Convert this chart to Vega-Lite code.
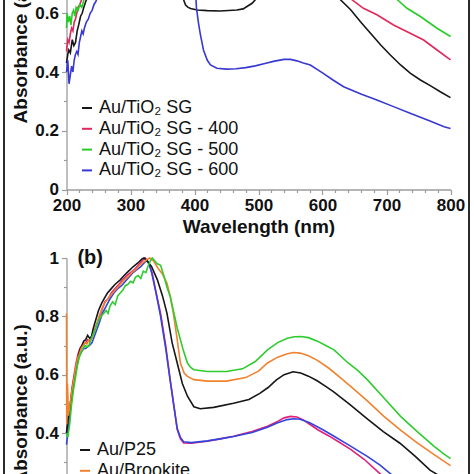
{
  "$schema": "https://vega.github.io/schema/vega-lite/v6.json",
  "width": 465,
  "height": 496,
  "autosize": {"type": "none"},
  "padding": {"left": 4, "top": -20, "right": 5, "bottom": -2},
  "background": "white",
  "config": {
    "font": "Liberation Sans",
    "view": {"stroke": "#2b2b2b", "strokeWidth": 2},
    "axis": {
      "grid": false,
      "domainColor": "#9c9c9c",
      "domainWidth": 1.3,
      "tickColor": "#9c9c9c",
      "tickWidth": 1.2,
      "labelFont": "Liberation Sans",
      "labelFontSize": 17,
      "labelFontWeight": "bold",
      "labelColor": "#111111",
      "labelPadding": 3,
      "titleFont": "Liberation Sans",
      "titleFontSize": 19,
      "titleFontWeight": "bold",
      "titleColor": "#111111"
    },
    "legend": {
      "symbolType": "stroke",
      "symbolSize": 100,
      "symbolStrokeWidth": 2,
      "labelFont": "Liberation Sans",
      "labelFontSize": 18,
      "labelColor": "#111111",
      "labelOffset": 3,
      "rowPadding": 2.8,
      "padding": 0
    }
  },
  "datasets": {
    "uvA": [
      {"sample": "Au/TiO₂ SG", "nm": 200, "abs": 0.43}, {"sample": "Au/TiO₂ SG", "nm": 202, "abs": 0.46}, {"sample": "Au/TiO₂ SG", "nm": 203.6, "abs": 0.475}, {"sample": "Au/TiO₂ SG", "nm": 206, "abs": 0.465}, {"sample": "Au/TiO₂ SG", "nm": 209, "abs": 0.51}, {"sample": "Au/TiO₂ SG", "nm": 211.5, "abs": 0.49}, {"sample": "Au/TiO₂ SG", "nm": 214, "abs": 0.5}, {"sample": "Au/TiO₂ SG", "nm": 216.7, "abs": 0.54}, {"sample": "Au/TiO₂ SG", "nm": 219, "abs": 0.56}, {"sample": "Au/TiO₂ SG", "nm": 222, "abs": 0.59}, {"sample": "Au/TiO₂ SG", "nm": 224.5, "abs": 0.6}, {"sample": "Au/TiO₂ SG", "nm": 227, "abs": 0.62}, {"sample": "Au/TiO₂ SG", "nm": 230, "abs": 0.64}, {"sample": "Au/TiO₂ SG", "nm": 234, "abs": 0.66}, {"sample": "Au/TiO₂ SG", "nm": 240, "abs": 0.7}, {"sample": "Au/TiO₂ SG", "nm": 260, "abs": 0.78}, {"sample": "Au/TiO₂ SG", "nm": 290, "abs": 0.88}, {"sample": "Au/TiO₂ SG", "nm": 320, "abs": 0.96}, {"sample": "Au/TiO₂ SG", "nm": 340, "abs": 0.97}, {"sample": "Au/TiO₂ SG", "nm": 355, "abs": 0.93}, {"sample": "Au/TiO₂ SG", "nm": 366, "abs": 0.82}, {"sample": "Au/TiO₂ SG", "nm": 376, "abs": 0.7}, {"sample": "Au/TiO₂ SG", "nm": 383, "abs": 0.646}, {"sample": "Au/TiO₂ SG", "nm": 386, "abs": 0.628}, {"sample": "Au/TiO₂ SG", "nm": 390, "abs": 0.62}, {"sample": "Au/TiO₂ SG", "nm": 394, "abs": 0.616}, {"sample": "Au/TiO₂ SG", "nm": 404, "abs": 0.611}, {"sample": "Au/TiO₂ SG", "nm": 420, "abs": 0.609}, {"sample": "Au/TiO₂ SG", "nm": 440, "abs": 0.608}, {"sample": "Au/TiO₂ SG", "nm": 466, "abs": 0.611}, {"sample": "Au/TiO₂ SG", "nm": 476, "abs": 0.615}, {"sample": "Au/TiO₂ SG", "nm": 482, "abs": 0.623}, {"sample": "Au/TiO₂ SG", "nm": 490, "abs": 0.634}, {"sample": "Au/TiO₂ SG", "nm": 495, "abs": 0.646}, {"sample": "Au/TiO₂ SG", "nm": 505, "abs": 0.665}, {"sample": "Au/TiO₂ SG", "nm": 520, "abs": 0.69}, {"sample": "Au/TiO₂ SG", "nm": 550, "abs": 0.74}, {"sample": "Au/TiO₂ SG", "nm": 580, "abs": 0.74}, {"sample": "Au/TiO₂ SG", "nm": 605, "abs": 0.7}, {"sample": "Au/TiO₂ SG", "nm": 628, "abs": 0.646}, {"sample": "Au/TiO₂ SG", "nm": 644, "abs": 0.612}, {"sample": "Au/TiO₂ SG", "nm": 659, "abs": 0.572}, {"sample": "Au/TiO₂ SG", "nm": 675, "abs": 0.532}, {"sample": "Au/TiO₂ SG", "nm": 691, "abs": 0.492}, {"sample": "Au/TiO₂ SG", "nm": 706, "abs": 0.458}, {"sample": "Au/TiO₂ SG", "nm": 722, "abs": 0.424}, {"sample": "Au/TiO₂ SG", "nm": 737, "abs": 0.396}, {"sample": "Au/TiO₂ SG", "nm": 753, "abs": 0.373}, {"sample": "Au/TiO₂ SG", "nm": 769, "abs": 0.353}, {"sample": "Au/TiO₂ SG", "nm": 784, "abs": 0.333}, {"sample": "Au/TiO₂ SG", "nm": 800, "abs": 0.313},
      {"sample": "Au/TiO₂ SG - 400", "nm": 200, "abs": 0.47}, {"sample": "Au/TiO₂ SG - 400", "nm": 202, "abs": 0.51}, {"sample": "Au/TiO₂ SG - 400", "nm": 204, "abs": 0.5}, {"sample": "Au/TiO₂ SG - 400", "nm": 206, "abs": 0.53}, {"sample": "Au/TiO₂ SG - 400", "nm": 208, "abs": 0.55}, {"sample": "Au/TiO₂ SG - 400", "nm": 210, "abs": 0.54}, {"sample": "Au/TiO₂ SG - 400", "nm": 212, "abs": 0.57}, {"sample": "Au/TiO₂ SG - 400", "nm": 214, "abs": 0.58}, {"sample": "Au/TiO₂ SG - 400", "nm": 216, "abs": 0.6}, {"sample": "Au/TiO₂ SG - 400", "nm": 218, "abs": 0.62}, {"sample": "Au/TiO₂ SG - 400", "nm": 221, "abs": 0.63}, {"sample": "Au/TiO₂ SG - 400", "nm": 224, "abs": 0.65}, {"sample": "Au/TiO₂ SG - 400", "nm": 228, "abs": 0.68}, {"sample": "Au/TiO₂ SG - 400", "nm": 240, "abs": 0.74}, {"sample": "Au/TiO₂ SG - 400", "nm": 270, "abs": 0.85}, {"sample": "Au/TiO₂ SG - 400", "nm": 300, "abs": 0.93}, {"sample": "Au/TiO₂ SG - 400", "nm": 330, "abs": 0.98}, {"sample": "Au/TiO₂ SG - 400", "nm": 360, "abs": 0.96}, {"sample": "Au/TiO₂ SG - 400", "nm": 380, "abs": 0.88}, {"sample": "Au/TiO₂ SG - 400", "nm": 400, "abs": 0.8}, {"sample": "Au/TiO₂ SG - 400", "nm": 450, "abs": 0.78}, {"sample": "Au/TiO₂ SG - 400", "nm": 500, "abs": 0.8}, {"sample": "Au/TiO₂ SG - 400", "nm": 550, "abs": 0.84}, {"sample": "Au/TiO₂ SG - 400", "nm": 600, "abs": 0.76}, {"sample": "Au/TiO₂ SG - 400", "nm": 630, "abs": 0.69}, {"sample": "Au/TiO₂ SG - 400", "nm": 646, "abs": 0.646}, {"sample": "Au/TiO₂ SG - 400", "nm": 664, "abs": 0.617}, {"sample": "Au/TiO₂ SG - 400", "nm": 685, "abs": 0.595}, {"sample": "Au/TiO₂ SG - 400", "nm": 711, "abs": 0.56}, {"sample": "Au/TiO₂ SG - 400", "nm": 737, "abs": 0.532}, {"sample": "Au/TiO₂ SG - 400", "nm": 758, "abs": 0.509}, {"sample": "Au/TiO₂ SG - 400", "nm": 779, "abs": 0.475}, {"sample": "Au/TiO₂ SG - 400", "nm": 800, "abs": 0.441},
      {"sample": "Au/TiO₂ SG - 500", "nm": 200, "abs": 0.55}, {"sample": "Au/TiO₂ SG - 500", "nm": 201, "abs": 0.6}, {"sample": "Au/TiO₂ SG - 500", "nm": 203, "abs": 0.57}, {"sample": "Au/TiO₂ SG - 500", "nm": 205, "abs": 0.59}, {"sample": "Au/TiO₂ SG - 500", "nm": 207, "abs": 0.56}, {"sample": "Au/TiO₂ SG - 500", "nm": 209, "abs": 0.6}, {"sample": "Au/TiO₂ SG - 500", "nm": 211, "abs": 0.61}, {"sample": "Au/TiO₂ SG - 500", "nm": 213, "abs": 0.59}, {"sample": "Au/TiO₂ SG - 500", "nm": 215, "abs": 0.62}, {"sample": "Au/TiO₂ SG - 500", "nm": 218, "abs": 0.61}, {"sample": "Au/TiO₂ SG - 500", "nm": 221, "abs": 0.63}, {"sample": "Au/TiO₂ SG - 500", "nm": 224, "abs": 0.62}, {"sample": "Au/TiO₂ SG - 500", "nm": 227, "abs": 0.645}, {"sample": "Au/TiO₂ SG - 500", "nm": 231, "abs": 0.66}, {"sample": "Au/TiO₂ SG - 500", "nm": 240, "abs": 0.71}, {"sample": "Au/TiO₂ SG - 500", "nm": 270, "abs": 0.84}, {"sample": "Au/TiO₂ SG - 500", "nm": 300, "abs": 0.93}, {"sample": "Au/TiO₂ SG - 500", "nm": 330, "abs": 0.98}, {"sample": "Au/TiO₂ SG - 500", "nm": 360, "abs": 0.97}, {"sample": "Au/TiO₂ SG - 500", "nm": 380, "abs": 0.92}, {"sample": "Au/TiO₂ SG - 500", "nm": 400, "abs": 0.86}, {"sample": "Au/TiO₂ SG - 500", "nm": 450, "abs": 0.85}, {"sample": "Au/TiO₂ SG - 500", "nm": 500, "abs": 0.87}, {"sample": "Au/TiO₂ SG - 500", "nm": 550, "abs": 0.92}, {"sample": "Au/TiO₂ SG - 500", "nm": 600, "abs": 0.86}, {"sample": "Au/TiO₂ SG - 500", "nm": 660, "abs": 0.75}, {"sample": "Au/TiO₂ SG - 500", "nm": 700, "abs": 0.675}, {"sample": "Au/TiO₂ SG - 500", "nm": 717, "abs": 0.646}, {"sample": "Au/TiO₂ SG - 500", "nm": 732, "abs": 0.617}, {"sample": "Au/TiO₂ SG - 500", "nm": 753, "abs": 0.589}, {"sample": "Au/TiO₂ SG - 500", "nm": 764, "abs": 0.572}, {"sample": "Au/TiO₂ SG - 500", "nm": 779, "abs": 0.549}, {"sample": "Au/TiO₂ SG - 500", "nm": 800, "abs": 0.521},
      {"sample": "Au/TiO₂ SG - 600", "nm": 200, "abs": 0.4}, {"sample": "Au/TiO₂ SG - 600", "nm": 202, "abs": 0.44}, {"sample": "Au/TiO₂ SG - 600", "nm": 204, "abs": 0.36}, {"sample": "Au/TiO₂ SG - 600", "nm": 206, "abs": 0.39}, {"sample": "Au/TiO₂ SG - 600", "nm": 208, "abs": 0.42}, {"sample": "Au/TiO₂ SG - 600", "nm": 210, "abs": 0.4}, {"sample": "Au/TiO₂ SG - 600", "nm": 212, "abs": 0.44}, {"sample": "Au/TiO₂ SG - 600", "nm": 214, "abs": 0.46}, {"sample": "Au/TiO₂ SG - 600", "nm": 216, "abs": 0.47}, {"sample": "Au/TiO₂ SG - 600", "nm": 218, "abs": 0.46}, {"sample": "Au/TiO₂ SG - 600", "nm": 220, "abs": 0.5}, {"sample": "Au/TiO₂ SG - 600", "nm": 222, "abs": 0.52}, {"sample": "Au/TiO₂ SG - 600", "nm": 224, "abs": 0.54}, {"sample": "Au/TiO₂ SG - 600", "nm": 226, "abs": 0.53}, {"sample": "Au/TiO₂ SG - 600", "nm": 228, "abs": 0.55}, {"sample": "Au/TiO₂ SG - 600", "nm": 231, "abs": 0.57}, {"sample": "Au/TiO₂ SG - 600", "nm": 234, "abs": 0.58}, {"sample": "Au/TiO₂ SG - 600", "nm": 237, "abs": 0.6}, {"sample": "Au/TiO₂ SG - 600", "nm": 240, "abs": 0.61}, {"sample": "Au/TiO₂ SG - 600", "nm": 243, "abs": 0.63}, {"sample": "Au/TiO₂ SG - 600", "nm": 246, "abs": 0.64}, {"sample": "Au/TiO₂ SG - 600", "nm": 250, "abs": 0.67}, {"sample": "Au/TiO₂ SG - 600", "nm": 270, "abs": 0.75}, {"sample": "Au/TiO₂ SG - 600", "nm": 300, "abs": 0.86}, {"sample": "Au/TiO₂ SG - 600", "nm": 330, "abs": 0.94}, {"sample": "Au/TiO₂ SG - 600", "nm": 360, "abs": 0.97}, {"sample": "Au/TiO₂ SG - 600", "nm": 385, "abs": 0.98}, {"sample": "Au/TiO₂ SG - 600", "nm": 394, "abs": 0.95}, {"sample": "Au/TiO₂ SG - 600", "nm": 398, "abs": 0.85}, {"sample": "Au/TiO₂ SG - 600", "nm": 401, "abs": 0.7}, {"sample": "Au/TiO₂ SG - 600", "nm": 403, "abs": 0.62}, {"sample": "Au/TiO₂ SG - 600", "nm": 406, "abs": 0.57}, {"sample": "Au/TiO₂ SG - 600", "nm": 409, "abs": 0.53}, {"sample": "Au/TiO₂ SG - 600", "nm": 414, "abs": 0.475}, {"sample": "Au/TiO₂ SG - 600", "nm": 420, "abs": 0.44}, {"sample": "Au/TiO₂ SG - 600", "nm": 425, "abs": 0.424}, {"sample": "Au/TiO₂ SG - 600", "nm": 435, "abs": 0.413}, {"sample": "Au/TiO₂ SG - 600", "nm": 450, "abs": 0.41}, {"sample": "Au/TiO₂ SG - 600", "nm": 465, "abs": 0.411}, {"sample": "Au/TiO₂ SG - 600", "nm": 480, "abs": 0.415}, {"sample": "Au/TiO₂ SG - 600", "nm": 495, "abs": 0.421}, {"sample": "Au/TiO₂ SG - 600", "nm": 510, "abs": 0.429}, {"sample": "Au/TiO₂ SG - 600", "nm": 525, "abs": 0.437}, {"sample": "Au/TiO₂ SG - 600", "nm": 540, "abs": 0.443}, {"sample": "Au/TiO₂ SG - 600", "nm": 550, "abs": 0.443}, {"sample": "Au/TiO₂ SG - 600", "nm": 560, "abs": 0.438}, {"sample": "Au/TiO₂ SG - 600", "nm": 570, "abs": 0.431}, {"sample": "Au/TiO₂ SG - 600", "nm": 581, "abs": 0.424}, {"sample": "Au/TiO₂ SG - 600", "nm": 600, "abs": 0.397}, {"sample": "Au/TiO₂ SG - 600", "nm": 617, "abs": 0.372}, {"sample": "Au/TiO₂ SG - 600", "nm": 633, "abs": 0.35}, {"sample": "Au/TiO₂ SG - 600", "nm": 660, "abs": 0.325}, {"sample": "Au/TiO₂ SG - 600", "nm": 685, "abs": 0.305}, {"sample": "Au/TiO₂ SG - 600", "nm": 710, "abs": 0.283}, {"sample": "Au/TiO₂ SG - 600", "nm": 737, "abs": 0.26}, {"sample": "Au/TiO₂ SG - 600", "nm": 765, "abs": 0.236}, {"sample": "Au/TiO₂ SG - 600", "nm": 790, "abs": 0.214}, {"sample": "Au/TiO₂ SG - 600", "nm": 800, "abs": 0.208}
    ],
    "uvB": [
      {"sample": "Au/Rutile", "nm": 200, "abs": 0.4}, {"sample": "Au/Rutile", "nm": 203, "abs": 0.45}, {"sample": "Au/Rutile", "nm": 206, "abs": 0.5}, {"sample": "Au/Rutile", "nm": 209, "abs": 0.56}, {"sample": "Au/Rutile", "nm": 212, "abs": 0.6}, {"sample": "Au/Rutile", "nm": 215, "abs": 0.64}, {"sample": "Au/Rutile", "nm": 218, "abs": 0.67}, {"sample": "Au/Rutile", "nm": 221, "abs": 0.69}, {"sample": "Au/Rutile", "nm": 224, "abs": 0.7}, {"sample": "Au/Rutile", "nm": 227, "abs": 0.705}, {"sample": "Au/Rutile", "nm": 230, "abs": 0.71}, {"sample": "Au/Rutile", "nm": 233, "abs": 0.72}, {"sample": "Au/Rutile", "nm": 236, "abs": 0.715}, {"sample": "Au/Rutile", "nm": 240, "abs": 0.73}, {"sample": "Au/Rutile", "nm": 245, "abs": 0.76}, {"sample": "Au/Rutile", "nm": 250, "abs": 0.79}, {"sample": "Au/Rutile", "nm": 255, "abs": 0.82}, {"sample": "Au/Rutile", "nm": 260, "abs": 0.85}, {"sample": "Au/Rutile", "nm": 265, "abs": 0.86}, {"sample": "Au/Rutile", "nm": 270, "abs": 0.88}, {"sample": "Au/Rutile", "nm": 276, "abs": 0.895}, {"sample": "Au/Rutile", "nm": 282, "abs": 0.91}, {"sample": "Au/Rutile", "nm": 288, "abs": 0.925}, {"sample": "Au/Rutile", "nm": 294, "abs": 0.94}, {"sample": "Au/Rutile", "nm": 300, "abs": 0.95}, {"sample": "Au/Rutile", "nm": 306, "abs": 0.96}, {"sample": "Au/Rutile", "nm": 312, "abs": 0.975}, {"sample": "Au/Rutile", "nm": 318, "abs": 0.99}, {"sample": "Au/Rutile", "nm": 323, "abs": 1.0}, {"sample": "Au/Rutile", "nm": 328, "abs": 0.985}, {"sample": "Au/Rutile", "nm": 334, "abs": 0.948}, {"sample": "Au/Rutile", "nm": 340, "abs": 0.88}, {"sample": "Au/Rutile", "nm": 347, "abs": 0.81}, {"sample": "Au/Rutile", "nm": 355, "abs": 0.7}, {"sample": "Au/Rutile", "nm": 362, "abs": 0.583}, {"sample": "Au/Rutile", "nm": 368, "abs": 0.49}, {"sample": "Au/Rutile", "nm": 373, "abs": 0.412}, {"sample": "Au/Rutile", "nm": 378, "abs": 0.38}, {"sample": "Au/Rutile", "nm": 383, "abs": 0.366}, {"sample": "Au/Rutile", "nm": 395, "abs": 0.365}, {"sample": "Au/Rutile", "nm": 420, "abs": 0.372}, {"sample": "Au/Rutile", "nm": 440, "abs": 0.38}, {"sample": "Au/Rutile", "nm": 461, "abs": 0.389}, {"sample": "Au/Rutile", "nm": 490, "abs": 0.405}, {"sample": "Au/Rutile", "nm": 514, "abs": 0.423}, {"sample": "Au/Rutile", "nm": 530, "abs": 0.44}, {"sample": "Au/Rutile", "nm": 540, "abs": 0.452}, {"sample": "Au/Rutile", "nm": 550, "abs": 0.457}, {"sample": "Au/Rutile", "nm": 560, "abs": 0.455}, {"sample": "Au/Rutile", "nm": 570, "abs": 0.445}, {"sample": "Au/Rutile", "nm": 580, "abs": 0.43}, {"sample": "Au/Rutile", "nm": 592, "abs": 0.412}, {"sample": "Au/Rutile", "nm": 610, "abs": 0.39}, {"sample": "Au/Rutile", "nm": 625, "abs": 0.37}, {"sample": "Au/Rutile", "nm": 644, "abs": 0.344}, {"sample": "Au/Rutile", "nm": 665, "abs": 0.31}, {"sample": "Au/Rutile", "nm": 685, "abs": 0.27}, {"sample": "Au/Rutile", "nm": 700, "abs": 0.24}, {"sample": "Au/Rutile", "nm": 730, "abs": 0.19}, {"sample": "Au/Rutile", "nm": 760, "abs": 0.15}, {"sample": "Au/Rutile", "nm": 800, "abs": 0.11},
      {"sample": "Au/TiO₂ SG", "nm": 200, "abs": 0.36}, {"sample": "Au/TiO₂ SG", "nm": 203, "abs": 0.42}, {"sample": "Au/TiO₂ SG", "nm": 206, "abs": 0.48}, {"sample": "Au/TiO₂ SG", "nm": 209, "abs": 0.53}, {"sample": "Au/TiO₂ SG", "nm": 212, "abs": 0.58}, {"sample": "Au/TiO₂ SG", "nm": 215, "abs": 0.62}, {"sample": "Au/TiO₂ SG", "nm": 218, "abs": 0.65}, {"sample": "Au/TiO₂ SG", "nm": 221, "abs": 0.67}, {"sample": "Au/TiO₂ SG", "nm": 224, "abs": 0.68}, {"sample": "Au/TiO₂ SG", "nm": 227, "abs": 0.69}, {"sample": "Au/TiO₂ SG", "nm": 230, "abs": 0.69}, {"sample": "Au/TiO₂ SG", "nm": 233, "abs": 0.695}, {"sample": "Au/TiO₂ SG", "nm": 236, "abs": 0.7}, {"sample": "Au/TiO₂ SG", "nm": 240, "abs": 0.71}, {"sample": "Au/TiO₂ SG", "nm": 245, "abs": 0.74}, {"sample": "Au/TiO₂ SG", "nm": 250, "abs": 0.77}, {"sample": "Au/TiO₂ SG", "nm": 256, "abs": 0.81}, {"sample": "Au/TiO₂ SG", "nm": 262, "abs": 0.835}, {"sample": "Au/TiO₂ SG", "nm": 268, "abs": 0.86}, {"sample": "Au/TiO₂ SG", "nm": 274, "abs": 0.88}, {"sample": "Au/TiO₂ SG", "nm": 280, "abs": 0.895}, {"sample": "Au/TiO₂ SG", "nm": 286, "abs": 0.905}, {"sample": "Au/TiO₂ SG", "nm": 292, "abs": 0.92}, {"sample": "Au/TiO₂ SG", "nm": 298, "abs": 0.935}, {"sample": "Au/TiO₂ SG", "nm": 304, "abs": 0.95}, {"sample": "Au/TiO₂ SG", "nm": 310, "abs": 0.96}, {"sample": "Au/TiO₂ SG", "nm": 316, "abs": 0.97}, {"sample": "Au/TiO₂ SG", "nm": 322, "abs": 0.985}, {"sample": "Au/TiO₂ SG", "nm": 326, "abs": 0.99}, {"sample": "Au/TiO₂ SG", "nm": 329, "abs": 0.98}, {"sample": "Au/TiO₂ SG", "nm": 333, "abs": 0.95}, {"sample": "Au/TiO₂ SG", "nm": 340, "abs": 0.88}, {"sample": "Au/TiO₂ SG", "nm": 347, "abs": 0.8}, {"sample": "Au/TiO₂ SG", "nm": 355, "abs": 0.69}, {"sample": "Au/TiO₂ SG", "nm": 362, "abs": 0.58}, {"sample": "Au/TiO₂ SG", "nm": 368, "abs": 0.49}, {"sample": "Au/TiO₂ SG", "nm": 373, "abs": 0.415}, {"sample": "Au/TiO₂ SG", "nm": 378, "abs": 0.385}, {"sample": "Au/TiO₂ SG", "nm": 383, "abs": 0.37}, {"sample": "Au/TiO₂ SG", "nm": 395, "abs": 0.367}, {"sample": "Au/TiO₂ SG", "nm": 420, "abs": 0.373}, {"sample": "Au/TiO₂ SG", "nm": 440, "abs": 0.38}, {"sample": "Au/TiO₂ SG", "nm": 461, "abs": 0.388}, {"sample": "Au/TiO₂ SG", "nm": 490, "abs": 0.402}, {"sample": "Au/TiO₂ SG", "nm": 514, "abs": 0.42}, {"sample": "Au/TiO₂ SG", "nm": 530, "abs": 0.435}, {"sample": "Au/TiO₂ SG", "nm": 545, "abs": 0.446}, {"sample": "Au/TiO₂ SG", "nm": 555, "abs": 0.449}, {"sample": "Au/TiO₂ SG", "nm": 565, "abs": 0.447}, {"sample": "Au/TiO₂ SG", "nm": 580, "abs": 0.435}, {"sample": "Au/TiO₂ SG", "nm": 600, "abs": 0.412}, {"sample": "Au/TiO₂ SG", "nm": 618, "abs": 0.389}, {"sample": "Au/TiO₂ SG", "nm": 640, "abs": 0.36}, {"sample": "Au/TiO₂ SG", "nm": 670, "abs": 0.32}, {"sample": "Au/TiO₂ SG", "nm": 690, "abs": 0.29}, {"sample": "Au/TiO₂ SG", "nm": 704, "abs": 0.264}, {"sample": "Au/TiO₂ SG", "nm": 730, "abs": 0.22}, {"sample": "Au/TiO₂ SG", "nm": 760, "abs": 0.18}, {"sample": "Au/TiO₂ SG", "nm": 800, "abs": 0.13},
      {"sample": "Au/P25", "nm": 200, "abs": 0.4}, {"sample": "Au/P25", "nm": 203, "abs": 0.46}, {"sample": "Au/P25", "nm": 206, "abs": 0.5}, {"sample": "Au/P25", "nm": 209, "abs": 0.55}, {"sample": "Au/P25", "nm": 212, "abs": 0.59}, {"sample": "Au/P25", "nm": 215, "abs": 0.62}, {"sample": "Au/P25", "nm": 218, "abs": 0.66}, {"sample": "Au/P25", "nm": 221, "abs": 0.685}, {"sample": "Au/P25", "nm": 224, "abs": 0.7}, {"sample": "Au/P25", "nm": 227, "abs": 0.715}, {"sample": "Au/P25", "nm": 230, "abs": 0.72}, {"sample": "Au/P25", "nm": 233, "abs": 0.735}, {"sample": "Au/P25", "nm": 236, "abs": 0.725}, {"sample": "Au/P25", "nm": 239, "abs": 0.73}, {"sample": "Au/P25", "nm": 242, "abs": 0.76}, {"sample": "Au/P25", "nm": 246, "abs": 0.79}, {"sample": "Au/P25", "nm": 250, "abs": 0.82}, {"sample": "Au/P25", "nm": 255, "abs": 0.845}, {"sample": "Au/P25", "nm": 260, "abs": 0.865}, {"sample": "Au/P25", "nm": 264, "abs": 0.88}, {"sample": "Au/P25", "nm": 270, "abs": 0.895}, {"sample": "Au/P25", "nm": 276, "abs": 0.91}, {"sample": "Au/P25", "nm": 284, "abs": 0.925}, {"sample": "Au/P25", "nm": 290, "abs": 0.94}, {"sample": "Au/P25", "nm": 297, "abs": 0.955}, {"sample": "Au/P25", "nm": 304, "abs": 0.97}, {"sample": "Au/P25", "nm": 311, "abs": 0.982}, {"sample": "Au/P25", "nm": 318, "abs": 0.997}, {"sample": "Au/P25", "nm": 321, "abs": 1.0}, {"sample": "Au/P25", "nm": 326, "abs": 0.99}, {"sample": "Au/P25", "nm": 333, "abs": 0.97}, {"sample": "Au/P25", "nm": 342, "abs": 0.925}, {"sample": "Au/P25", "nm": 350, "abs": 0.87}, {"sample": "Au/P25", "nm": 357, "abs": 0.81}, {"sample": "Au/P25", "nm": 365, "abs": 0.71}, {"sample": "Au/P25", "nm": 373, "abs": 0.64}, {"sample": "Au/P25", "nm": 381, "abs": 0.57}, {"sample": "Au/P25", "nm": 389, "abs": 0.526}, {"sample": "Au/P25", "nm": 399, "abs": 0.49}, {"sample": "Au/P25", "nm": 409, "abs": 0.483}, {"sample": "Au/P25", "nm": 430, "abs": 0.488}, {"sample": "Au/P25", "nm": 461, "abs": 0.502}, {"sample": "Au/P25", "nm": 485, "abs": 0.515}, {"sample": "Au/P25", "nm": 502, "abs": 0.536}, {"sample": "Au/P25", "nm": 515, "abs": 0.556}, {"sample": "Au/P25", "nm": 528, "abs": 0.582}, {"sample": "Au/P25", "nm": 540, "abs": 0.6}, {"sample": "Au/P25", "nm": 554, "abs": 0.61}, {"sample": "Au/P25", "nm": 566, "abs": 0.606}, {"sample": "Au/P25", "nm": 578, "abs": 0.595}, {"sample": "Au/P25", "nm": 591, "abs": 0.58}, {"sample": "Au/P25", "nm": 605, "abs": 0.56}, {"sample": "Au/P25", "nm": 617, "abs": 0.542}, {"sample": "Au/P25", "nm": 643, "abs": 0.497}, {"sample": "Au/P25", "nm": 669, "abs": 0.45}, {"sample": "Au/P25", "nm": 695, "abs": 0.405}, {"sample": "Au/P25", "nm": 721, "abs": 0.365}, {"sample": "Au/P25", "nm": 745, "abs": 0.32}, {"sample": "Au/P25", "nm": 768, "abs": 0.273}, {"sample": "Au/P25", "nm": 785, "abs": 0.25}, {"sample": "Au/P25", "nm": 800, "abs": 0.23},
      {"sample": "Au/Brookite", "nm": 200, "abs": 0.81}, {"sample": "Au/Brookite", "nm": 200.4, "abs": 0.43}, {"sample": "Au/Brookite", "nm": 201.5, "abs": 0.57}, {"sample": "Au/Brookite", "nm": 203, "abs": 0.46}, {"sample": "Au/Brookite", "nm": 205, "abs": 0.49}, {"sample": "Au/Brookite", "nm": 208, "abs": 0.54}, {"sample": "Au/Brookite", "nm": 211, "abs": 0.58}, {"sample": "Au/Brookite", "nm": 214, "abs": 0.62}, {"sample": "Au/Brookite", "nm": 217, "abs": 0.655}, {"sample": "Au/Brookite", "nm": 220, "abs": 0.67}, {"sample": "Au/Brookite", "nm": 223, "abs": 0.69}, {"sample": "Au/Brookite", "nm": 226, "abs": 0.7}, {"sample": "Au/Brookite", "nm": 229, "abs": 0.71}, {"sample": "Au/Brookite", "nm": 232, "abs": 0.705}, {"sample": "Au/Brookite", "nm": 235, "abs": 0.72}, {"sample": "Au/Brookite", "nm": 239, "abs": 0.72}, {"sample": "Au/Brookite", "nm": 243, "abs": 0.745}, {"sample": "Au/Brookite", "nm": 247, "abs": 0.77}, {"sample": "Au/Brookite", "nm": 251, "abs": 0.8}, {"sample": "Au/Brookite", "nm": 256, "abs": 0.83}, {"sample": "Au/Brookite", "nm": 261, "abs": 0.85}, {"sample": "Au/Brookite", "nm": 266, "abs": 0.865}, {"sample": "Au/Brookite", "nm": 272, "abs": 0.88}, {"sample": "Au/Brookite", "nm": 278, "abs": 0.895}, {"sample": "Au/Brookite", "nm": 284, "abs": 0.91}, {"sample": "Au/Brookite", "nm": 290, "abs": 0.925}, {"sample": "Au/Brookite", "nm": 296, "abs": 0.935}, {"sample": "Au/Brookite", "nm": 302, "abs": 0.95}, {"sample": "Au/Brookite", "nm": 308, "abs": 0.96}, {"sample": "Au/Brookite", "nm": 314, "abs": 0.975}, {"sample": "Au/Brookite", "nm": 320, "abs": 0.985}, {"sample": "Au/Brookite", "nm": 326, "abs": 0.995}, {"sample": "Au/Brookite", "nm": 330, "abs": 1.0}, {"sample": "Au/Brookite", "nm": 336, "abs": 0.99}, {"sample": "Au/Brookite", "nm": 343, "abs": 0.965}, {"sample": "Au/Brookite", "nm": 350, "abs": 0.945}, {"sample": "Au/Brookite", "nm": 357, "abs": 0.913}, {"sample": "Au/Brookite", "nm": 362, "abs": 0.87}, {"sample": "Au/Brookite", "nm": 367, "abs": 0.81}, {"sample": "Au/Brookite", "nm": 373, "abs": 0.72}, {"sample": "Au/Brookite", "nm": 378, "abs": 0.64}, {"sample": "Au/Brookite", "nm": 384, "abs": 0.605}, {"sample": "Au/Brookite", "nm": 389, "abs": 0.594}, {"sample": "Au/Brookite", "nm": 399, "abs": 0.583}, {"sample": "Au/Brookite", "nm": 420, "abs": 0.578}, {"sample": "Au/Brookite", "nm": 450, "abs": 0.578}, {"sample": "Au/Brookite", "nm": 480, "abs": 0.59}, {"sample": "Au/Brookite", "nm": 500, "abs": 0.612}, {"sample": "Au/Brookite", "nm": 514, "abs": 0.64}, {"sample": "Au/Brookite", "nm": 530, "abs": 0.66}, {"sample": "Au/Brookite", "nm": 545, "abs": 0.672}, {"sample": "Au/Brookite", "nm": 555, "abs": 0.676}, {"sample": "Au/Brookite", "nm": 565, "abs": 0.674}, {"sample": "Au/Brookite", "nm": 578, "abs": 0.665}, {"sample": "Au/Brookite", "nm": 592, "abs": 0.649}, {"sample": "Au/Brookite", "nm": 610, "abs": 0.622}, {"sample": "Au/Brookite", "nm": 625, "abs": 0.595}, {"sample": "Au/Brookite", "nm": 644, "abs": 0.56}, {"sample": "Au/Brookite", "nm": 670, "abs": 0.51}, {"sample": "Au/Brookite", "nm": 696, "abs": 0.457}, {"sample": "Au/Brookite", "nm": 722, "abs": 0.41}, {"sample": "Au/Brookite", "nm": 748, "abs": 0.366}, {"sample": "Au/Brookite", "nm": 775, "abs": 0.325}, {"sample": "Au/Brookite", "nm": 800, "abs": 0.288},
      {"sample": "Au/Anatase", "nm": 200, "abs": 0.4}, {"sample": "Au/Anatase", "nm": 202, "abs": 0.385}, {"sample": "Au/Anatase", "nm": 205, "abs": 0.43}, {"sample": "Au/Anatase", "nm": 208, "abs": 0.5}, {"sample": "Au/Anatase", "nm": 211, "abs": 0.55}, {"sample": "Au/Anatase", "nm": 214, "abs": 0.59}, {"sample": "Au/Anatase", "nm": 217, "abs": 0.63}, {"sample": "Au/Anatase", "nm": 220, "abs": 0.66}, {"sample": "Au/Anatase", "nm": 223, "abs": 0.675}, {"sample": "Au/Anatase", "nm": 226, "abs": 0.69}, {"sample": "Au/Anatase", "nm": 229, "abs": 0.7}, {"sample": "Au/Anatase", "nm": 232, "abs": 0.695}, {"sample": "Au/Anatase", "nm": 235, "abs": 0.7}, {"sample": "Au/Anatase", "nm": 238, "abs": 0.72}, {"sample": "Au/Anatase", "nm": 242, "abs": 0.74}, {"sample": "Au/Anatase", "nm": 246, "abs": 0.76}, {"sample": "Au/Anatase", "nm": 250, "abs": 0.785}, {"sample": "Au/Anatase", "nm": 254, "abs": 0.8}, {"sample": "Au/Anatase", "nm": 258, "abs": 0.81}, {"sample": "Au/Anatase", "nm": 262, "abs": 0.82}, {"sample": "Au/Anatase", "nm": 265, "abs": 0.81}, {"sample": "Au/Anatase", "nm": 268, "abs": 0.835}, {"sample": "Au/Anatase", "nm": 272, "abs": 0.85}, {"sample": "Au/Anatase", "nm": 276, "abs": 0.84}, {"sample": "Au/Anatase", "nm": 280, "abs": 0.87}, {"sample": "Au/Anatase", "nm": 284, "abs": 0.88}, {"sample": "Au/Anatase", "nm": 288, "abs": 0.89}, {"sample": "Au/Anatase", "nm": 292, "abs": 0.905}, {"sample": "Au/Anatase", "nm": 296, "abs": 0.91}, {"sample": "Au/Anatase", "nm": 300, "abs": 0.92}, {"sample": "Au/Anatase", "nm": 304, "abs": 0.915}, {"sample": "Au/Anatase", "nm": 308, "abs": 0.935}, {"sample": "Au/Anatase", "nm": 312, "abs": 0.94}, {"sample": "Au/Anatase", "nm": 316, "abs": 0.93}, {"sample": "Au/Anatase", "nm": 320, "abs": 0.955}, {"sample": "Au/Anatase", "nm": 324, "abs": 0.95}, {"sample": "Au/Anatase", "nm": 328, "abs": 0.975}, {"sample": "Au/Anatase", "nm": 331, "abs": 0.99}, {"sample": "Au/Anatase", "nm": 334, "abs": 1.0}, {"sample": "Au/Anatase", "nm": 338, "abs": 0.99}, {"sample": "Au/Anatase", "nm": 342, "abs": 0.98}, {"sample": "Au/Anatase", "nm": 347, "abs": 0.975}, {"sample": "Au/Anatase", "nm": 352, "abs": 0.94}, {"sample": "Au/Anatase", "nm": 357, "abs": 0.9}, {"sample": "Au/Anatase", "nm": 362, "abs": 0.868}, {"sample": "Au/Anatase", "nm": 368, "abs": 0.81}, {"sample": "Au/Anatase", "nm": 373, "abs": 0.76}, {"sample": "Au/Anatase", "nm": 378, "abs": 0.72}, {"sample": "Au/Anatase", "nm": 383, "abs": 0.68}, {"sample": "Au/Anatase", "nm": 389, "abs": 0.64}, {"sample": "Au/Anatase", "nm": 394, "abs": 0.625}, {"sample": "Au/Anatase", "nm": 399, "abs": 0.617}, {"sample": "Au/Anatase", "nm": 420, "abs": 0.611}, {"sample": "Au/Anatase", "nm": 450, "abs": 0.611}, {"sample": "Au/Anatase", "nm": 475, "abs": 0.62}, {"sample": "Au/Anatase", "nm": 495, "abs": 0.645}, {"sample": "Au/Anatase", "nm": 514, "abs": 0.685}, {"sample": "Au/Anatase", "nm": 530, "abs": 0.71}, {"sample": "Au/Anatase", "nm": 545, "abs": 0.725}, {"sample": "Au/Anatase", "nm": 556, "abs": 0.73}, {"sample": "Au/Anatase", "nm": 566, "abs": 0.731}, {"sample": "Au/Anatase", "nm": 578, "abs": 0.727}, {"sample": "Au/Anatase", "nm": 592, "abs": 0.715}, {"sample": "Au/Anatase", "nm": 605, "abs": 0.7}, {"sample": "Au/Anatase", "nm": 618, "abs": 0.685}, {"sample": "Au/Anatase", "nm": 640, "abs": 0.64}, {"sample": "Au/Anatase", "nm": 655, "abs": 0.615}, {"sample": "Au/Anatase", "nm": 670, "abs": 0.583}, {"sample": "Au/Anatase", "nm": 696, "abs": 0.52}, {"sample": "Au/Anatase", "nm": 722, "abs": 0.457}, {"sample": "Au/Anatase", "nm": 748, "abs": 0.405}, {"sample": "Au/Anatase", "nm": 774, "abs": 0.355}, {"sample": "Au/Anatase", "nm": 790, "abs": 0.328}, {"sample": "Au/Anatase", "nm": 800, "abs": 0.312}
    ]
  },
  "layer": [
    {
      "layer": [
        {
          "data": {"name": "uvA"},
          "mark": {"type": "line", "strokeWidth": 1.6},
          "encoding": {
            "x": {
              "field": "nm", "type": "quantitative",
              "scale": {"domain": [200, 800], "range": [62.5, 446.5], "nice": false, "zero": false},
              "axis": {
                "orient": "bottom", "offset": -286.5, "title": "Wavelength (nm)", "titlePadding": 4,
                "values": [200, 300, 400, 500, 600, 700, 800],
                "tickSize": 5, "labelFlush": false, "labelOverlap": false
              }
            },
            "y": {
              "field": "abs", "type": "quantitative",
              "scale": {"domain": [0, 1], "range": [209.5, -84.2], "nice": false, "zero": false},
              "axis": {
                "orient": "left", "offset": -62.5, "title": "Absorbance (a.u.)", "titlePadding": 4,
                "values": [0, 0.05, 0.1, 0.15, 0.2, 0.25, 0.3, 0.35, 0.4, 0.45, 0.5, 0.55, 0.6, 0.65, 0.7, 0.75, 0.8, 0.85, 0.9, 0.95, 1],
                "labelExpr": "abs(datum.value * 5 - round(datum.value * 5)) < 0.001 ? format(datum.value, '~g') : ''",
                "tickSize": {"condition": {"test": "abs(datum.value * 5 - round(datum.value * 5)) < 0.001", "value": 5}, "value": 3},
                "labelOverlap": false
              }
            },
            "color": {
              "field": "sample", "type": "nominal",
              "scale": {
                "domain": ["Au/TiO₂ SG", "Au/TiO₂ SG - 400", "Au/TiO₂ SG - 500", "Au/TiO₂ SG - 600"],
                "range": ["#161616", "#e0285c", "#27cc27", "#3838d2"]
              },
              "legend": {"orient": "none", "legendX": 74, "legendY": 119, "title": null}
            }
          }
        },
        {
          "data": {"values": [{}]},
          "mark": {"type": "text", "text": "(a)", "align": "left", "baseline": "middle", "fontSize": 20, "fontWeight": "bold", "font": "Liberation Sans", "color": "#111111"},
          "encoding": {
            "x": {
              "datum": 217,
              "axis": {
                "orient": "bottom", "offset": -286.5, "title": null, "labels": false, "domain": false, "tickSize": 3,
                "values": [220, 240, 260, 280, 320, 340, 360, 380, 420, 440, 460, 480, 520, 540, 560, 580, 620, 640, 660, 680, 720, 740, 760, 780]
              }
            },
            "y": {"datum": 1}
          }
        }
      ],
      "resolve": {"axis": {"x": "independent"}}
    },
    {
      "layer": [
        {
          "data": {"name": "uvB"},
          "mark": {"type": "line", "strokeWidth": 1.6},
          "encoding": {
            "x": {
              "field": "nm", "type": "quantitative",
              "scale": {"domain": [200, 800], "range": [62.5, 446.5], "nice": false, "zero": false},
              "axis": {
                "orient": "bottom", "offset": 73.7, "title": "Wavelength (nm)", "titlePadding": 4,
                "values": [200, 300, 400, 500, 600, 700, 800],
                "tickSize": 5, "labelFlush": false, "labelOverlap": false
              }
            },
            "y": {
              "field": "abs", "type": "quantitative",
              "scale": {"domain": [0, 1], "range": [569.7, 278], "nice": false, "zero": false},
              "axis": {
                "orient": "left", "offset": -62.5, "title": "Absorbance (a.u.)", "titlePadding": 4,
                "values": [0, 0.05, 0.1, 0.15, 0.2, 0.25, 0.3, 0.35, 0.4, 0.45, 0.5, 0.55, 0.6, 0.65, 0.7, 0.75, 0.8, 0.85, 0.9, 0.95, 1],
                "labelExpr": "abs(datum.value * 5 - round(datum.value * 5)) < 0.001 ? format(datum.value, '~g') : ''",
                "tickSize": {"condition": {"test": "abs(datum.value * 5 - round(datum.value * 5)) < 0.001", "value": 5}, "value": 3},
                "labelOverlap": false
              }
            },
            "color": {
              "field": "sample", "type": "nominal",
              "scale": {
                "domain": ["Au/P25", "Au/Brookite", "Au/Anatase", "Au/Rutile", "Au/TiO₂ SG"],
                "range": ["#161616", "#f0822e", "#2fcc2f", "#e0207a", "#3344dd"]
              },
              "legend": {"orient": "none", "legendX": 72, "legendY": 461, "title": null}
            }
          }
        },
        {
          "data": {"values": [{}]},
          "mark": {"type": "text", "text": "(b)", "align": "left", "baseline": "middle", "fontSize": 20, "fontWeight": "bold", "font": "Liberation Sans", "color": "#111111"},
          "encoding": {
            "x": {
              "datum": 217,
              "axis": {
                "orient": "bottom", "offset": 73.7, "title": null, "labels": false, "domain": false, "tickSize": 3,
                "values": [220, 240, 260, 280, 320, 340, 360, 380, 420, 440, 460, 480, 520, 540, 560, 580, 620, 640, 660, 680, 720, 740, 760, 780]
              }
            },
            "y": {"datum": 1}
          }
        }
      ],
      "resolve": {"axis": {"x": "independent"}}
    }
  ],
  "resolve": {
    "scale": {"x": "independent", "y": "independent", "color": "independent"},
    "axis": {"x": "independent", "y": "independent"},
    "legend": {"color": "independent"}
  }
}
